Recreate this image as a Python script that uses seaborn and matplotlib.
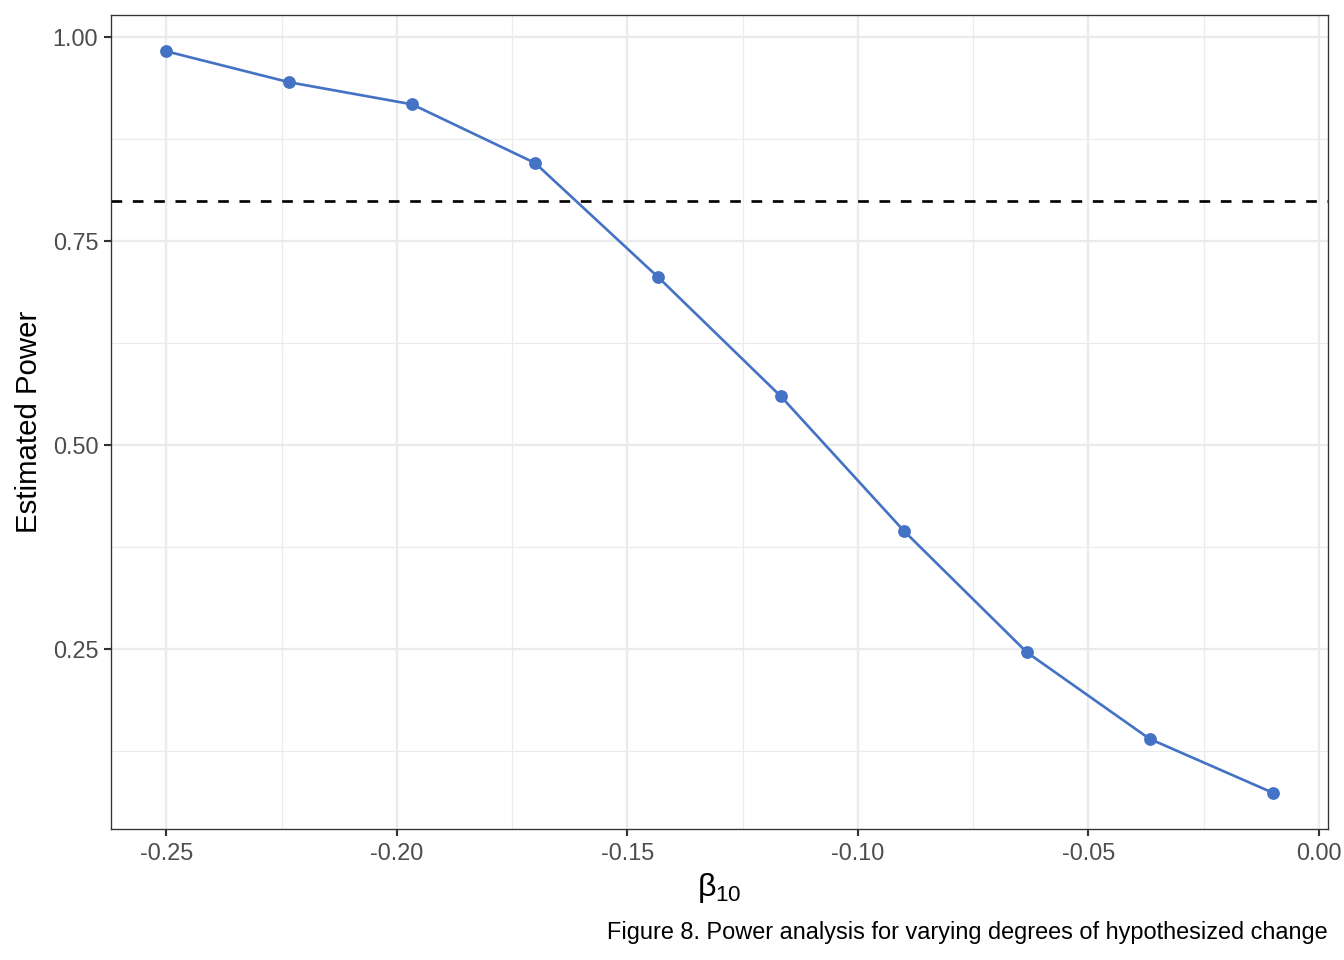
import numpy as np
import pandas as pd
import matplotlib
matplotlib.use('Agg')
import matplotlib.pyplot as plt
import seaborn as sb
from matplotlib.ticker import FixedLocator

# hypothesized change values and estimated power
beta_10 = [-0.25, -0.2233, -0.1967, -0.17, -0.1433, -0.1167, -0.09, -0.0633, -0.0367, -0.01]
power = [0.983, 0.945, 0.918, 0.846, 0.706, 0.560, 0.395, 0.246, 0.140, 0.074]
target_power = 0.8

x_ticks = [-0.25, -0.20, -0.15, -0.10, -0.05, 0.00]
y_ticks = [0.25, 0.50, 0.75, 1.00]

df = pd.DataFrame({'beta': beta_10, 'power': power})

sb.set_theme(style='white')
plt.rcParams['font.family'] = ['Liberation Sans', 'DejaVu Sans']
plt.rcParams['mathtext.fontset'] = 'custom'
plt.rcParams['mathtext.rm'] = 'Liberation Sans'
plt.rcParams['mathtext.it'] = 'Liberation Sans'

fig = plt.figure(figsize=(7, 5), dpi=192)
ax = fig.add_axes([111 / 1344, 1 - 829 / 960, (1328 - 111) / 1344, (829 - 15) / 960])

# grid, ggplot theme_bw style
ax.set_axisbelow(True)
ax.xaxis.set_minor_locator(FixedLocator([-0.225, -0.175, -0.125, -0.075, -0.025]))
ax.yaxis.set_minor_locator(FixedLocator([0.125, 0.375, 0.625, 0.875]))
ax.grid(which='major', color='#EBEBEB', linewidth=0.9)
ax.grid(which='minor', color='#EBEBEB', linewidth=0.45)

ax.axhline(target_power, color='black', linewidth=1.0, linestyle=(0, (4, 4)), zorder=2)

sb.lineplot(data=df, x='beta', y='power', ax=ax, color='#4472C4', linewidth=1.0,
            marker='o', markersize=4.8, markeredgewidth=0, zorder=3)

ax.set_xlim(-0.262, 0.002)
ax.set_ylim(0.0295, 1.0275)
ax.set_xticks(x_ticks)
ax.set_xticklabels(['%.2f' % v for v in x_ticks])
ax.set_yticks(y_ticks)
ax.set_yticklabels(['%.2f' % v for v in y_ticks])

for s in ax.spines.values():
    s.set_visible(True)
    s.set_color('#333333')
    s.set_linewidth(0.5)

ax.tick_params(which='major', direction='out', length=2.6, width=0.8, color='#333333',
               labelsize=8.8, labelcolor='#4D4D4D', pad=2.2,
               bottom=True, left=True)
ax.tick_params(which='minor', length=0)

ax.set_xlabel(r'$\beta_{10}$', fontsize=12, color='black', labelpad=2.5)
ax.set_ylabel('Estimated Power', fontsize=11, color='black', labelpad=3.5)

fig.text(1328 / 1344, 1 - 932 / 960, 'Figure 8. Power analysis for varying degrees of hypothesized change',
         ha='right', va='center', fontsize=8.8, color='black')

plt.savefig('out.png', dpi=192)
